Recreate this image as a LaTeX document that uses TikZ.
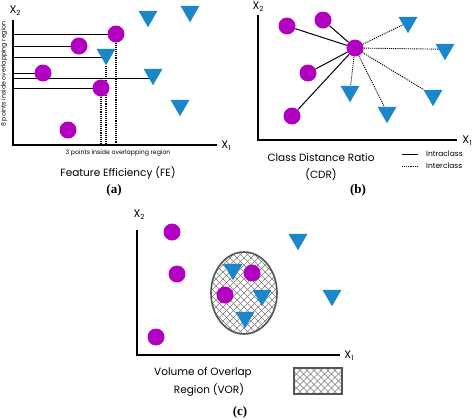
\documentclass[tikz,border=0pt]{standalone}
\usepackage{fontspec}
\setmainfont{Poppins}
\newfontfamily\capfont{Liberation Serif}
\usetikzlibrary{shapes.geometric,backgrounds}
\definecolor{mag}{RGB}{178,0,192}
\definecolor{tblue}{RGB}{28,135,200}
\definecolor{hatchc}{RGB}{120,120,120}
\definecolor{rimc}{RGB}{85,85,85}
\tikzset{
  pt/.style={circle,fill=mag,minimum size=17pt,inner sep=0pt},
  tri/.style={regular polygon,regular polygon sides=3,shape border rotate=180,
    fill=tblue,minimum size=22pt,inner sep=0pt,yshift=2.75pt},
  axis/.style={line width=2pt},
  conn/.style={line width=1pt},
  dconn/.style={line width=1.1pt,densely dotted},
  axlab/.style={inner sep=0pt,font=\fontsize{11}{13}\selectfont},
  biglab/.style={inner sep=0pt,align=center,font=\fontsize{10.5}{17}\selectfont},
  smalllab/.style={inner sep=0pt,font=\fontsize{6.2}{7}\selectfont},
  leglab/.style={inner sep=0pt,anchor=west,font=\fontsize{7.5}{9}\selectfont},
  caplab/.style={inner sep=0pt,font=\fontsize{13}{15}\capfont\bfseries},
  hatched/.style={path picture={
    \begin{scope}[shift={(path picture bounding box.center)}]
      \foreach \i in {-126,-119,...,126}{
        \draw[hatchc,line width=0.55pt] (\i-60,-60) -- (\i+60,60);
        \draw[hatchc,line width=0.55pt] (\i-60,60) -- (\i+60,-60);
      }
    \end{scope}}}
}
\newcommand{\Xsub}[1]{X\raisebox{-0.35ex}{\fontsize{7}{7}\selectfont #1}}
\begin{document}
\begin{tikzpicture}[x=1pt,y=-1pt]
\useasboundingbox (0,0) rectangle (474,418);

% ---------------- Panel (a)
\coordinate (aO) at (13,145);
\coordinate (aY) at (13,20);
\coordinate (aX) at (217,145);
\draw[axis] (aY) -- (aO) -- (aX);
\node[axlab] (aX2) at (15,11) {\Xsub{2}};
\node[axlab] (aX1) at (226,146) {\Xsub{1}};

\node[pt] (a1) at (116,34) {};
\node[pt] (a2) at (79,46) {};
\node[pt] (a3) at (43,73) {};
\node[pt] (a4) at (101,88) {};
\node[pt] (a5) at (68,130) {};
\node[tri] (at1) at (106,57) {};
\node[tri] (at2) at (153,77) {};
\node[tri] (at3) at (180,108) {};
\node[tri] (at4) at (148,19) {};
\node[tri] (at5) at (190,14) {};

\coordinate (h1) at (13,34);
\coordinate (h2) at (13,46);
\coordinate (h3) at (13,57);
\coordinate (h4) at (13,73);
\coordinate (h5) at (13,78);
\coordinate (h6) at (13,88);
\begin{scope}[on background layer]
  \draw[conn] (h1) -- (h1 -| a1);
  \draw[conn] (h2) -- (h2 -| a2);
  \draw[conn] (h3) -- (h3 -| at1);
  \draw[conn] (h4) -- (h4 -| a3);
  \draw[conn] (h5) -- (h5 -| at2);
  \draw[conn] (h6) -- (h6 -| a4);
  \draw[dconn] (a4) -- (a4 |- aO);
  \draw[dconn] (at1) -- (at1 |- aO);
  \draw[dconn] (a1) -- (a1 |- aO);
\end{scope}

\node[smalllab,rotate=90] (a8txt) at (4,74) {8 points inside overlapping region};
\node[smalllab] (a3txt) at (118,153) {3 points inside overlapping region};
\node[biglab] (aname) at (118,173) {Feature Efficiency (FE)};
\node[caplab] (acap) at (114,190) {(a)};

% ---------------- Panel (b)
\coordinate (bO) at (258,140);
\coordinate (bY) at (258,15);
\coordinate (bX) at (457,140);
\draw[axis] (bY) -- (bO) -- (bX);
\node[axlab] (bX2) at (258,7) {\Xsub{2}};
\node[axlab] (bX1) at (467,141) {\Xsub{1}};

\node[pt] (bc) at (355,48) {};
\node[pt] (b1) at (287,26) {};
\node[pt] (b2) at (323,20) {};
\node[pt] (b3) at (308,73) {};
\node[pt] (b4) at (292,116) {};
\node[tri] (bt1) at (408,25) {};
\node[tri] (bt2) at (445,52) {};
\node[tri] (bt3) at (350,94) {};
\node[tri] (bt4) at (387,115) {};
\node[tri] (bt5) at (433,98) {};
\begin{scope}[on background layer]
  \draw[conn] (bc) -- (b1);
  \draw[conn] (bc) -- (b2);
  \draw[conn] (bc) -- (b3);
  \draw[conn] (bc) -- (b4);
  \draw[dconn,line width=0.9pt] (bc) -- (bt1);
  \draw[dconn,line width=0.9pt] (bc) -- (bt2);
  \draw[dconn,line width=0.9pt] (bc) -- (bt3);
  \draw[dconn,line width=0.9pt] (bc) -- (bt4);
  \draw[dconn,line width=0.9pt] (bc) -- (bt5);
\end{scope}

\node[biglab] (bname) at (321,167) {Class Distance Ratio\\(CDR)};
\node[caplab] (bcap) at (358,190) {(b)};
\coordinate (ls1) at (402,154);
\coordinate (ls2) at (418,154);
\coordinate (ld1) at (402,166);
\coordinate (ld2) at (418,166);
\draw[conn] (ls1) -- (ls2);
\draw[dconn,line width=0.9pt] (ld1) -- (ld2);
\node[leglab] (lg1) at (426,154) {Intraclass};
\node[leglab] (lg2) at (426,166) {Interclass};

% ---------------- Panel (c)
\coordinate (cO) at (137,355);
\coordinate (cY) at (137,230);
\coordinate (cX) at (340,355);
\draw[axis] (cY) -- (cO) -- (cX);
\node[axlab] (cX2) at (139,215) {\Xsub{2}};
\node[axlab] (cX1) at (349,356) {\Xsub{1}};

\node[ellipse,draw=rimc,line width=1.6pt,minimum width=66pt,minimum height=82pt,
  inner sep=0pt,hatched] (ov) at (244,293) {};

\node[pt] (c1) at (172,232) {};
\node[pt] (c2) at (177,274) {};
\node[pt] (c3) at (225,295) {};
\node[pt] (c4) at (252,273) {};
\node[pt] (c5) at (156,337) {};
\node[tri] (ct1) at (298,242) {};
\node[tri] (ct2) at (332,298) {};
\node[tri] (ct3) at (233,272) {};
\node[tri] (ct4) at (262,298) {};
\node[tri] (ct5) at (245,320) {};

\node[biglab] (cname1) at (203,373) {Volume of Overlap};
\node[biglab] (cname2) at (209,390) {Region (VOR)};
\node[draw=rimc,line width=2pt,minimum width=48pt,minimum height=26pt,inner sep=0pt,
  hatched] (key) at (317.5,381) {};
\node[caplab] (ccap) at (240,412) {(c)};
\end{tikzpicture}
\end{document}
